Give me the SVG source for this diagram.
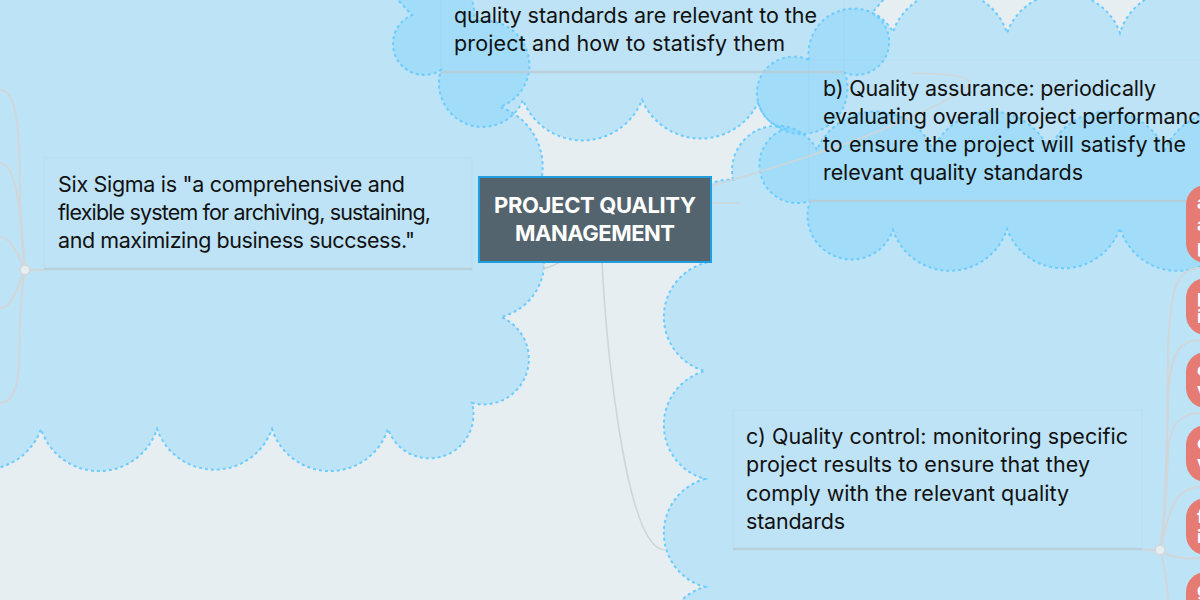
<svg xmlns="http://www.w3.org/2000/svg" width="1200" height="600" viewBox="0 0 1200 600">
<style>
.cloud{fill:#6bcffe;fill-opacity:.33;stroke:#6ccbff;stroke-width:2;stroke-dasharray:3 3}
.box{fill:#fff;fill-opacity:.02;stroke:#8fb6cc;stroke-opacity:.1;stroke-width:1}
.shadow{stroke:#b9cbd6;stroke-width:2.5;fill:none;opacity:.8}
.t{font-family:"Inter","Liberation Sans",sans-serif;font-size:21.5px;fill:#111}
.title{font-family:"Inter","Liberation Sans",sans-serif;font-size:22px;font-weight:700;fill:#fff}
.rt{font-family:"Inter","Liberation Sans",sans-serif;font-size:18px;font-weight:700;fill:#fff}
.c{fill:none;stroke:#d0d7db;stroke-width:2.2}
.c1{fill:none;stroke:#cfd6da;stroke-width:1.6}
.hub{fill:#e6eef2;stroke:#d0d9de;stroke-width:2}
.red{fill:#e57b72}
</style>
<rect width="1200" height="600" fill="#e6eef2"/>
<path id="cloud-left" class="cloud" d="M-100,-100 L470,-100 L472,0 Q475,10 474,22 A44.5,44.5 0 0 1 500,107 A63,63 0 0 1 520,215 A57,57 0 0 1 501,317 A45.5,45.5 0 0 1 472,403 A44,44 0 0 1 388,429 A61,61 0 0 1 272,429 A61,61 0 0 1 157,429 A61,61 0 0 1 41,429 A61,61 0 0 1 -74,429 L-100,-100 Z"/>
<path id="cloud-top" class="cloud" d="M395,-100 L900,-100 L883,0 L872,13 A33,33 0 0 1 845,73 A46,46 0 0 1 758,103 A64,64 0 0 1 642,100 A64,64 0 0 1 523,100 A43.7,43.7 0 0 1 441,70 A31.2,31.2 0 1 1 412,15 L398,0 Z"/>
<path id="cloud-b" class="cloud" d="M809,60 A45,45 0 0 1 893,32 A60,60 0 0 1 1007,33 A60,60 0 0 1 1120,33 A60,60 0 0 1 1235,33 L1300,33 L1300,228 L1235,228 A60,60 0 0 1 1120,228 A60,60 0 0 1 1007,229 A60,60 0 0 1 893,230 A43,43 0 0 1 810,201 A38.1,38.1 0 1 1 785,129 A36.7,36.7 0 1 1 809,60 Z"/>
<path id="cloud-c" class="cloud" d="M733,180 A45,45 0 0 1 817,150 A63,63 0 0 1 933,150 A63,63 0 0 1 1049,150 A63,63 0 0 1 1165,150 A63,63 0 0 1 1281,150 L1300,150 L1300,800 L705,800 L705,695 A56,56 0 0 1 705,587 A56,56 0 0 1 705,479 A56,56 0 0 1 705,371 A56,56 0 0 1 705,263 A45,45 0 0 1 733,180 Z"/>
<g id="connectors">
<path class="c1" d="M711,186 C760,172 850,145 900,122 C950,100 980,85 965,78 C950,73 930,74 912,73"/>
<path class="c1" d="M711,203 L740,203"/>
<path class="c1" d="M541,269 C548,268 553,266 560,262"/>
<path class="c1" d="M602,262 C606,340 625,550 665,550"/>
<path class="c" d="M25,270 L44,270"/>
<path class="c" d="M25,270 C20,240 20,180 19,150 C18,110 12,90 0,90"/>
<path class="c" d="M25,270 C22,240 20,163 0,163"/>
<path class="c" d="M25,270 C16,250 10,237 0,237"/>
<path class="c" d="M25,270 C16,290 12,308 0,308"/>
<path class="c" d="M25,270 C19,300 20,340 19,360 C18,390 12,403 0,403"/>
<path class="c" d="M1142,550 L1160,550"/>
<path class="c" d="M1160,550 C1166,530 1167,440 1168,360 C1169,290 1176,268 1200,268"/>
<path class="c" d="M1160,550 C1166,520 1167,440 1168,400 C1170,355 1178,340 1200,340"/>
<path class="c" d="M1160,550 C1166,520 1167,470 1168,450 C1170,425 1180,413 1200,413"/>
<path class="c" d="M1160,550 C1167,530 1168,487 1200,487"/>
<path class="c" d="M1160,550 C1172,558 1182,559 1200,558"/>
<path class="c" d="M1160,550 C1165,565 1167,585 1168,600"/>
</g>
<g id="node-a">
<rect class="box" x="441" y="-40" width="403" height="112"/>
<path class="shadow" d="M441,72 H844"/>
<text class="t" x="454" y="23" textLength="363">quality standards are relevant to the</text>
<text class="t" x="454" y="51" textLength="331">project and how to statisfy them</text>
</g>
<g id="node-b">
<rect class="box" x="809" y="60" width="420" height="141"/>
<path class="shadow" d="M809,201 H1200"/>
<text class="t" x="823" y="96" textLength="333">b) Quality assurance: periodically</text>
<text class="t" x="823" y="124" textLength="390">evaluating overall project performance</text>
<text class="t" x="823" y="152" textLength="363">to ensure the project will satisfy the</text>
<text class="t" x="823" y="180" textLength="260">relevant quality standards</text>
</g>
<g id="node-six-sigma">
<rect class="box" x="44" y="158" width="428" height="111"/>
<path class="shadow" d="M44,269 H472"/>
<text class="t" x="58" y="192" textLength="347">Six Sigma is "a comprehensive and</text>
<text class="t" x="58" y="220" textLength="373">flexible system for archiving, sustaining,</text>
<text class="t" x="58" y="248" textLength="357">and maximizing business succsess."</text>
</g>
<g id="node-c">
<rect class="box" x="733" y="410" width="409" height="139"/>
<path class="shadow" d="M733,549 H1142"/>
<text class="t" x="746" y="444" textLength="382">c) Quality control: monitoring specific</text>
<text class="t" x="746" y="472" textLength="344">project results to ensure that they</text>
<text class="t" x="746" y="501" textLength="323">comply with the relevant quality</text>
<text class="t" x="746" y="529" textLength="99">standards</text>
</g>
<circle class="hub" cx="25" cy="270" r="5"/>
<circle class="hub" cx="1160" cy="550" r="5"/>
<g id="node-center">
<rect x="479" y="177" width="232" height="85" fill="#53646e" stroke="#1f9fe0" stroke-width="2"/>
<text class="title" x="494" y="213" textLength="202">PROJECT QUALITY</text>
<text class="title" x="515" y="241" textLength="160">MANAGEMENT</text>
</g>
<g id="node-r1"><rect class="red" x="1186" y="185" width="60" height="78" rx="20"/><text class="rt" x="1197" y="209">a</text><text class="rt" x="1197" y="231">a</text><text class="rt" x="1197" y="253">p</text></g>
<g id="node-r2"><rect class="red" x="1186" y="278" width="60" height="57" rx="20"/><text class="rt" x="1197" y="303">p</text><text class="rt" x="1197" y="323">i</text></g>
<g id="node-r3"><rect class="red" x="1186" y="352" width="60" height="56" rx="20"/><text class="rt" x="1197" y="376">c</text><text class="rt" x="1197" y="396">v</text></g>
<g id="node-r4"><rect class="red" x="1186" y="425" width="60" height="57" rx="20"/><text class="rt" x="1197" y="449">c</text><text class="rt" x="1197" y="469">v</text></g>
<g id="node-r5"><rect class="red" x="1186" y="498" width="60" height="57" rx="20"/><text class="rt" x="1197" y="523">f</text><text class="rt" x="1197" y="543">i</text></g>
<g id="node-r6"><rect class="red" x="1186" y="572" width="60" height="60" rx="20"/><text class="rt" x="1197" y="596">g</text></g>
</svg>
